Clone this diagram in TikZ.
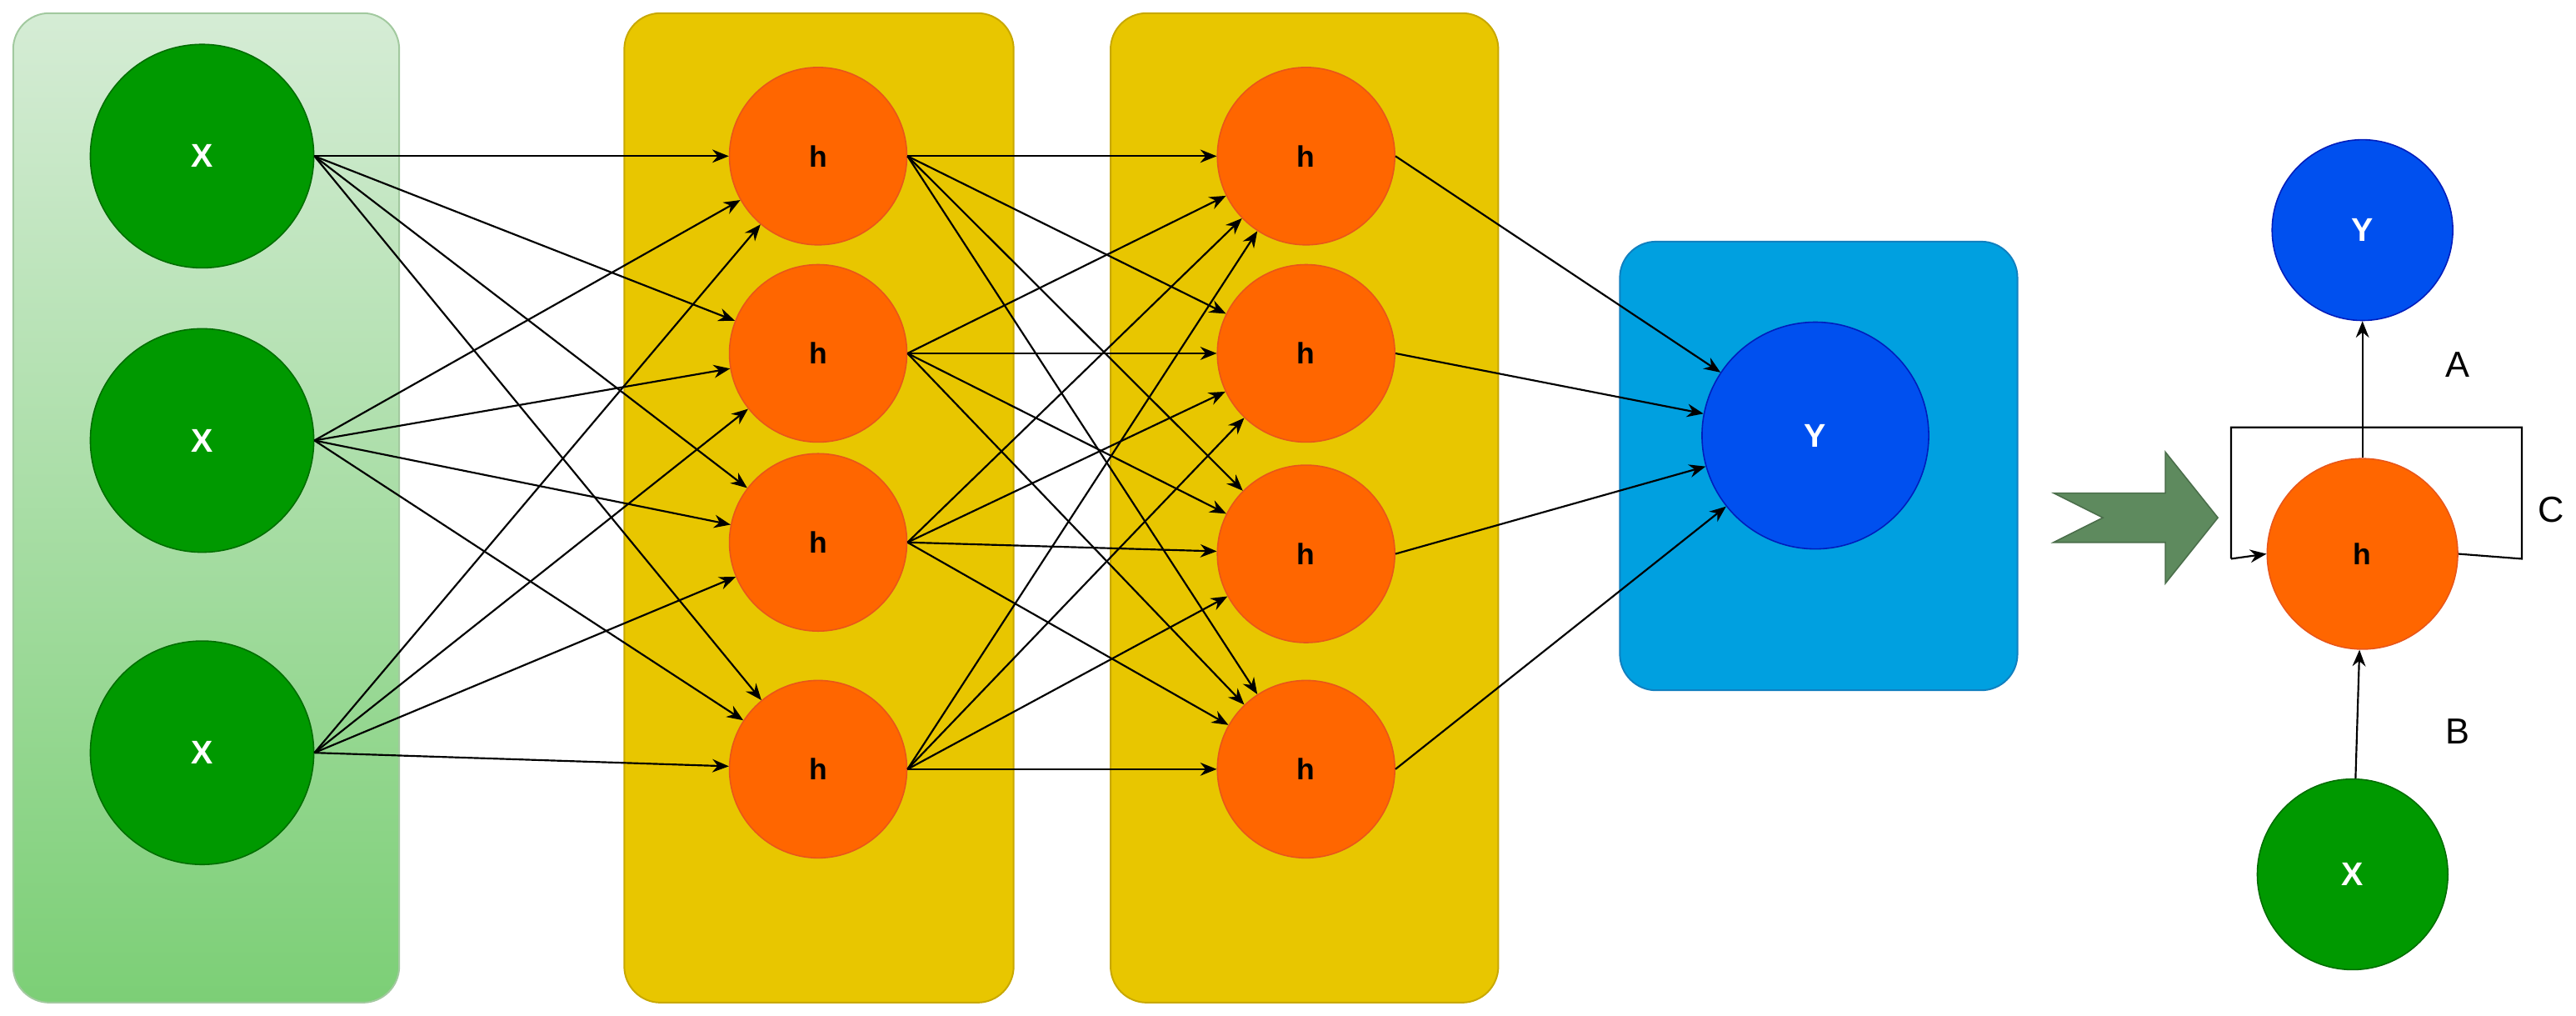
\documentclass[tikz,border=0pt]{standalone}
\usepackage{fontspec}
\setmainfont{Liberation Sans}
\usetikzlibrary{arrows.meta}
\definecolor{gnode}{HTML}{009900}
\definecolor{gline}{HTML}{006E00}
\definecolor{hnode}{HTML}{FF6600}
\definecolor{hline}{HTML}{E8561A}
\definecolor{ynode}{HTML}{0050EF}
\definecolor{yline}{HTML}{001DBC}
\definecolor{ypanel}{HTML}{E8C600}
\definecolor{ypline}{HTML}{C8A800}
\definecolor{bpanel}{HTML}{00A0E0}
\definecolor{bpline}{HTML}{1080C0}
\definecolor{gtop}{HTML}{D5ECD5}
\definecolor{gbot}{HTML}{7CCF76}
\definecolor{arrowg}{HTML}{5E8A5E}
\begin{document}
\begin{tikzpicture}[x=1pt,y=-1pt,
  xn/.style={circle,fill=gnode,draw=gline,line width=0.8pt,minimum size=136pt,inner sep=0,text=white,font=\bfseries\fontsize{20}{20}\selectfont},
  hn/.style={circle,fill=hnode,draw=hline,line width=0.8pt,minimum size=108pt,inner sep=0,text=black,font=\bfseries\fontsize{18}{18}\selectfont},
  yn/.style={circle,fill=ynode,draw=yline,line width=0.8pt,minimum size=138pt,inner sep=0,text=white,font=\bfseries\fontsize{20}{20}\selectfont},
  panel/.style={rounded corners=22pt,line width=1pt},
  con/.style={line width=1.1pt,-{Stealth[length=10pt,width=8pt]}},
  lab/.style={font=\fontsize{22}{22}\selectfont}]
\useasboundingbox (0,0) rectangle (1568,618);
% panels
\shade[panel,top color=gtop,bottom color=gbot] (8,8) rectangle (243,610);
\draw[panel,draw=gbot!80!black!60] (8,8) rectangle (243,610);
\draw[panel,fill=ypanel,draw=ypline] (380,8) rectangle (617,610);
\draw[panel,fill=ypanel,draw=ypline] (676,8) rectangle (912,610);
\draw[panel,fill=bpanel,draw=bpline] (986,147) rectangle (1228,420);
% nodes
\node[xn] (x1) at (123,95) {X};
\node[xn] (x2) at (123,268) {X};
\node[xn] (x3) at (123,458) {X};
\node[hn] (a1) at (498,95) {h};
\node[hn] (a2) at (498,215) {h};
\node[hn] (a3) at (498,330) {h};
\node[hn] (a4) at (498,468) {h};
\node[hn] (b1) at (795,95) {h};
\node[hn] (b2) at (795,215) {h};
\node[hn] (b3) at (795,337) {h};
\node[hn] (b4) at (795,468) {h};
\node[yn] (y) at (1105,265) {Y};
% connectors
\foreach \s in {x1,x2,x3}{\foreach \t in {a1,a2,a3,a4}{\draw[con] (\s.east) -- (\t);}}
\foreach \s in {a1,a2,a3,a4}{\foreach \t in {b1,b2,b3,b4}{\draw[con] (\s.east) -- (\t);}}
\foreach \s in {b1,b2,b3,b4}{\draw[con] (\s.east) -- (y);}
% big arrow
\draw[fill=arrowg,draw=arrowg!80!black,line width=0.8pt] (1250,300) -- (1318,300) -- (1318,275) -- (1350,315) -- (1318,355) -- (1318,330) -- (1250,330) -- (1280,315) -- cycle;
% RNN unit
\node[yn,minimum size=110pt] (ry) at (1438,140) {Y};
\node[hn,minimum size=116pt] (rh) at (1438,337) {h};
\node[xn,minimum size=116pt] (rx) at (1432,532) {X};
\draw[con] (rh) -- (ry);
\draw[con] (rx) -- (rh);
\coordinate (tl) at (1358,260);
\coordinate (tr) at (1535,260);
\draw[line width=1.1pt] (rh.east) -- (1535,340) -- (tr) -- (tl) -- (1358,340);
\draw[con] (1358,340) -- (rh.west);
\node[lab] (la) at (1496,222) {A};
\node[lab] (lc) at (1553,310) {C};
\node[lab] (lb) at (1496,445) {B};
\end{tikzpicture}
\end{document}
